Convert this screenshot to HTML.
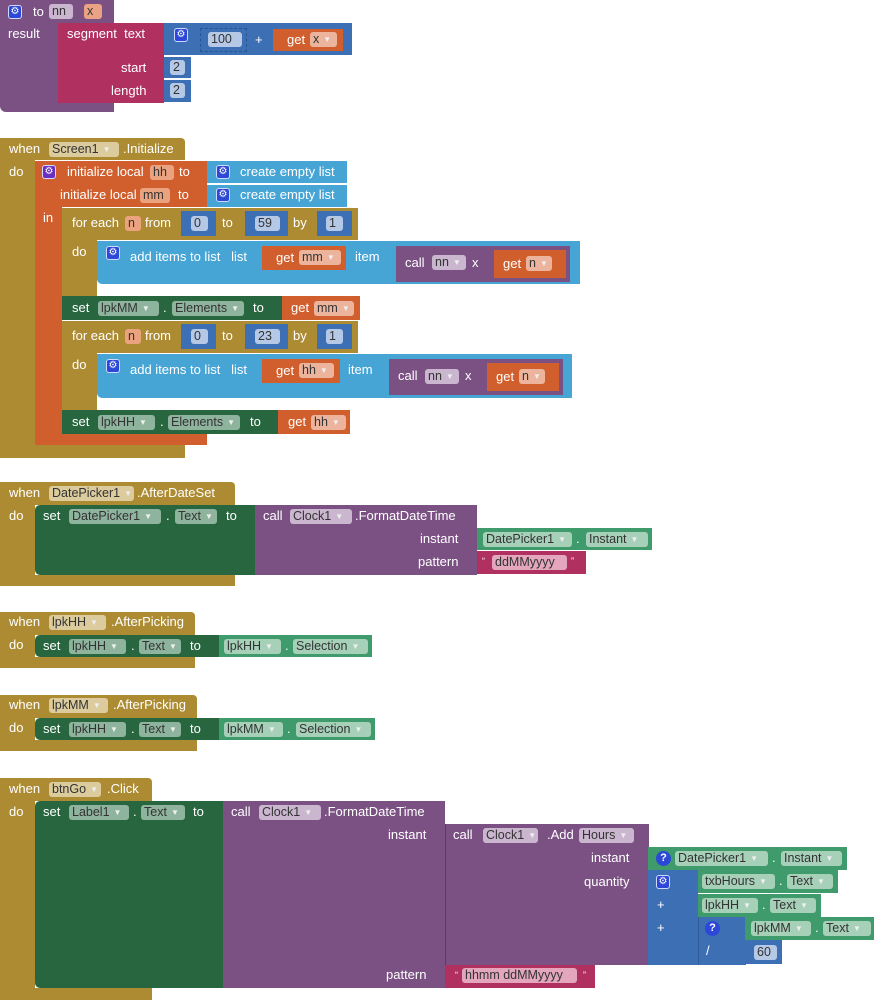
<!DOCTYPE html>
<html><head><meta charset="utf-8"><style>
body{margin:0;width:874px;height:1000px;background:#fff;position:relative;overflow:hidden;font-family:"Liberation Sans",sans-serif}
.r{position:absolute}
.t{position:absolute;color:#fff;font-size:13px;line-height:16px;white-space:nowrap}
.f{position:absolute;height:15px;line-height:15px;border-radius:3px;background:rgba(255,255,255,.5);color:#333;font-size:12.5px;padding:0 3px;white-space:nowrap;box-sizing:border-box;text-align:left}
.f i{font-style:normal;font-size:8px;color:#eee;margin-left:4px;vertical-align:1px}
.g{position:absolute;width:14px;height:14px;border-radius:3px;background:#2d48d6;border:1px solid #cfd8ff;box-sizing:border-box;color:#fff;font-size:10px;line-height:12px;text-align:center}
.q{position:absolute;width:15px;height:15px;border-radius:50%;background:#2d48d6;color:#fff;font-size:11px;font-weight:bold;line-height:15px;text-align:center}
.gd{background:#ad8b33}.pu{background:#7b5184}.mg{background:#b0305f}.bl{background:#3d6fb5}.lb{background:#47a5d6}.or{background:#d05f2d}.dg{background:#27663f}.gg{background:#3f9a6c}
</style></head><body>

<!-- to nn -->
<div class="r pu" style="left:0;top:0;width:114px;height:112px;border-radius:0 0 0 6px"></div>
<div class="g" style="left:8px;top:5px">⚙</div>
<div class="t" style="left:33px;top:4px">to</div>
<div class="f" style="left:49px;top:4px;width:24px;background:#cbb6d0">nn</div>
<div class="f" style="left:84px;top:4px;width:18px;background:#e9a384">x</div>
<div class="t" style="left:8px;top:26px">result</div>
<div class="r mg" style="left:58px;top:23px;width:106px;height:80px"></div>
<div class="t" style="left:67px;top:26px">segment&nbsp; text</div>
<div class="t" style="left:121px;top:60px">start</div>
<div class="t" style="left:111px;top:83px">length</div>
<div class="r bl" style="left:164px;top:23px;width:188px;height:32px"></div>
<div class="g" style="left:174px;top:28px">⚙</div>
<div class="r" style="left:200px;top:28px;width:47px;height:24px;border:1px dashed #2a5490;box-sizing:border-box"></div>
<div class="f" style="left:208px;top:32px;width:34px;background:#b5c8e6">100</div>
<div class="t" style="left:255px;top:32px">+</div>
<div class="r or" style="left:273px;top:29px;width:70px;height:22px"></div>
<div class="t" style="left:287px;top:32px">get</div>
<div class="f" style="left:310px;top:32px;width:27px;background:#ecb49c">x<i>▼</i></div>
<div class="r bl" style="left:164px;top:57px;width:27px;height:21px"></div>
<div class="f" style="left:170px;top:60px;width:15px;background:#b5c8e6">2</div>
<div class="r bl" style="left:164px;top:80px;width:27px;height:22px"></div>
<div class="f" style="left:170px;top:83px;width:15px;background:#b5c8e6">2</div>

<!-- Screen1.Initialize -->
<div class="r gd" style="left:0;top:138px;width:185px;height:22px;border-radius:4px 4px 0 0"></div>
<div class="r gd" style="left:0;top:138px;width:35px;height:320px"></div>
<div class="r gd" style="left:0;top:445px;width:185px;height:13px"></div>
<div class="t" style="left:9px;top:141px">when</div>
<div class="f" style="left:49px;top:142px;width:70px;background:#dccb9d">Screen1<i>▼</i></div>
<div class="t" style="left:123px;top:141px">.Initialize</div>
<div class="t" style="left:9px;top:164px">do</div>
<div class="r or" style="left:35px;top:161px;width:172px;height:46px"></div>
<div class="r or" style="left:35px;top:161px;width:27px;height:284px"></div>
<div class="r or" style="left:35px;top:432px;width:172px;height:13px"></div>
<div class="g" style="left:42px;top:165px;background:#6a2fc0">⚙</div>
<div class="t" style="left:67px;top:164px">initialize local</div>
<div class="f" style="left:150px;top:165px;width:24px;background:#eba37f">hh</div>
<div class="t" style="left:179px;top:164px">to</div>
<div class="t" style="left:60px;top:187px">initialize local</div>
<div class="f" style="left:140px;top:188px;width:30px;background:#eba37f">mm</div>
<div class="t" style="left:178px;top:187px">to</div>
<div class="t" style="left:43px;top:210px">in</div>
<div class="r lb" style="left:207px;top:161px;width:140px;height:22px"></div>
<div class="r lb" style="left:207px;top:185px;width:140px;height:22px"></div>
<div class="g" style="left:216px;top:165px">⚙</div>
<div class="g" style="left:216px;top:188px">⚙</div>
<div class="t" style="left:240px;top:164px">create empty list</div>
<div class="t" style="left:240px;top:187px">create empty list</div>

<!-- for each 1 -->
<div class="r gd" style="left:62px;top:208px;width:296px;height:32px"></div>
<div class="r gd" style="left:62px;top:208px;width:35px;height:88px"></div>
<div class="t" style="left:72px;top:215px">for each</div>
<div class="f" style="left:125px;top:216px;width:16px;background:#eba37f">n</div>
<div class="t" style="left:145px;top:215px">from</div>
<div class="r bl" style="left:181px;top:211px;width:35px;height:25px"></div>
<div class="f" style="left:191px;top:216px;width:17px;background:#b5c8e6">0</div>
<div class="t" style="left:222px;top:215px">to</div>
<div class="r bl" style="left:245px;top:211px;width:43px;height:25px"></div>
<div class="f" style="left:255px;top:216px;width:25px;background:#b5c8e6">59</div>
<div class="t" style="left:293px;top:215px">by</div>
<div class="r bl" style="left:317px;top:211px;width:35px;height:25px"></div>
<div class="f" style="left:326px;top:216px;width:17px;background:#b5c8e6">1</div>
<div class="t" style="left:72px;top:244px">do</div>
<div class="r lb" style="left:97px;top:241px;width:483px;height:43px;border-radius:0 0 0 5px"></div>
<div class="g" style="left:106px;top:246px">⚙</div>
<div class="t" style="left:130px;top:249px">add items to list&nbsp;&nbsp; list</div>
<div class="r or" style="left:262px;top:246px;width:84px;height:24px"></div>
<div class="t" style="left:276px;top:250px">get</div>
<div class="f" style="left:299px;top:250px;width:42px;background:#ecb49c">mm<i>▼</i></div>
<div class="t" style="left:355px;top:249px">item</div>
<div class="r pu" style="left:396px;top:246px;width:174px;height:36px"></div>
<div class="t" style="left:405px;top:255px">call</div>
<div class="f" style="left:432px;top:255px;width:34px;background:#cbb6d0">nn<i>▼</i></div>
<div class="t" style="left:472px;top:255px">x</div>
<div class="r or" style="left:494px;top:250px;width:72px;height:28px"></div>
<div class="t" style="left:503px;top:256px">get</div>
<div class="f" style="left:526px;top:256px;width:26px;background:#ecb49c">n<i>▼</i></div>
<div class="r dg" style="left:62px;top:296px;width:220px;height:24px"></div>
<div class="t" style="left:72px;top:300px">set</div>
<div class="f" style="left:98px;top:301px;width:61px;background:#8fb49d">lpkMM<i>▼</i></div>
<div class="t" style="left:163px;top:300px">.</div>
<div class="f" style="left:172px;top:301px;width:72px;background:#8fb49d">Elements<i>▼</i></div>
<div class="t" style="left:253px;top:300px">to</div>
<div class="r or" style="left:282px;top:296px;width:78px;height:24px"></div>
<div class="t" style="left:291px;top:300px">get</div>
<div class="f" style="left:314px;top:301px;width:40px;background:#ecb49c">mm<i>▼</i></div>

<!-- for each 2 -->
<div class="r gd" style="left:62px;top:321px;width:296px;height:32px"></div>
<div class="r gd" style="left:62px;top:321px;width:35px;height:89px"></div>
<div class="t" style="left:72px;top:328px">for each</div>
<div class="f" style="left:125px;top:329px;width:16px;background:#eba37f">n</div>
<div class="t" style="left:145px;top:328px">from</div>
<div class="r bl" style="left:181px;top:324px;width:35px;height:25px"></div>
<div class="f" style="left:191px;top:329px;width:17px;background:#b5c8e6">0</div>
<div class="t" style="left:222px;top:328px">to</div>
<div class="r bl" style="left:245px;top:324px;width:43px;height:25px"></div>
<div class="f" style="left:255px;top:329px;width:25px;background:#b5c8e6">23</div>
<div class="t" style="left:293px;top:328px">by</div>
<div class="r bl" style="left:317px;top:324px;width:35px;height:25px"></div>
<div class="f" style="left:326px;top:329px;width:17px;background:#b5c8e6">1</div>
<div class="t" style="left:72px;top:357px">do</div>
<div class="r lb" style="left:97px;top:354px;width:475px;height:44px;border-radius:0 0 0 5px"></div>
<div class="g" style="left:106px;top:359px">⚙</div>
<div class="t" style="left:130px;top:362px">add items to list&nbsp;&nbsp; list</div>
<div class="r or" style="left:262px;top:359px;width:78px;height:24px"></div>
<div class="t" style="left:276px;top:363px">get</div>
<div class="f" style="left:299px;top:363px;width:35px;background:#ecb49c">hh<i>▼</i></div>
<div class="t" style="left:348px;top:362px">item</div>
<div class="r pu" style="left:389px;top:359px;width:174px;height:36px"></div>
<div class="t" style="left:398px;top:368px">call</div>
<div class="f" style="left:425px;top:369px;width:34px;background:#cbb6d0">nn<i>▼</i></div>
<div class="t" style="left:465px;top:368px">x</div>
<div class="r or" style="left:487px;top:363px;width:72px;height:28px"></div>
<div class="t" style="left:496px;top:369px">get</div>
<div class="f" style="left:519px;top:369px;width:26px;background:#ecb49c">n<i>▼</i></div>
<div class="r dg" style="left:62px;top:410px;width:216px;height:24px"></div>
<div class="t" style="left:72px;top:414px">set</div>
<div class="f" style="left:98px;top:415px;width:57px;background:#8fb49d">lpkHH<i>▼</i></div>
<div class="t" style="left:160px;top:414px">.</div>
<div class="f" style="left:168px;top:415px;width:72px;background:#8fb49d">Elements<i>▼</i></div>
<div class="t" style="left:250px;top:414px">to</div>
<div class="r or" style="left:278px;top:410px;width:72px;height:24px"></div>
<div class="t" style="left:288px;top:414px">get</div>
<div class="f" style="left:311px;top:415px;width:35px;background:#ecb49c">hh<i>▼</i></div>

<!-- DatePicker1.AfterDateSet -->
<div class="r gd" style="left:0;top:482px;width:235px;height:23px;border-radius:4px 4px 0 0"></div>
<div class="r gd" style="left:0;top:482px;width:35px;height:104px"></div>
<div class="r gd" style="left:0;top:575px;width:235px;height:11px"></div>
<div class="t" style="left:9px;top:485px">when</div>
<div class="f" style="left:49px;top:486px;width:85px;background:#dccb9d">DatePicker1<i>▼</i></div>
<div class="t" style="left:137px;top:485px">.AfterDateSet</div>
<div class="t" style="left:9px;top:508px">do</div>
<div class="r dg" style="left:35px;top:505px;width:220px;height:70px;border-radius:5px 0 0 5px"></div>
<div class="t" style="left:43px;top:508px">set</div>
<div class="f" style="left:69px;top:509px;width:92px;background:#8fb49d">DatePicker1<i>▼</i></div>
<div class="t" style="left:166px;top:508px">.</div>
<div class="f" style="left:175px;top:509px;width:42px;background:#8fb49d">Text<i>▼</i></div>
<div class="t" style="left:226px;top:508px">to</div>
<div class="r pu" style="left:255px;top:505px;width:222px;height:70px"></div>
<div class="t" style="left:263px;top:508px">call</div>
<div class="f" style="left:290px;top:509px;width:62px;background:#cbb6d0">Clock1<i>▼</i></div>
<div class="t" style="left:355px;top:508px">.FormatDateTime</div>
<div class="t" style="left:420px;top:531px">instant</div>
<div class="t" style="left:418px;top:554px">pattern</div>
<div class="r gg" style="left:477px;top:528px;width:175px;height:22px"></div>
<div class="f" style="left:483px;top:532px;width:89px;background:#a7d0b9">DatePicker1<i>▼</i></div>
<div class="t" style="left:576px;top:531px">.</div>
<div class="f" style="left:586px;top:532px;width:62px;background:#a7d0b9">Instant<i>▼</i></div>
<div class="r mg" style="left:477px;top:551px;width:109px;height:23px"></div>
<div class="t" style="left:482px;top:553px;font-size:9px">“</div>
<div class="f" style="left:492px;top:555px;width:75px;background:#e3a6bd">ddMMyyyy</div>
<div class="t" style="left:571px;top:553px;font-size:9px">”</div>

<!-- lpkHH.AfterPicking -->
<div class="r gd" style="left:0;top:612px;width:195px;height:23px;border-radius:4px 4px 0 0"></div>
<div class="r gd" style="left:0;top:612px;width:35px;height:56px"></div>
<div class="r gd" style="left:0;top:657px;width:195px;height:11px"></div>
<div class="t" style="left:9px;top:614px">when</div>
<div class="f" style="left:49px;top:615px;width:57px;background:#dccb9d">lpkHH<i>▼</i></div>
<div class="t" style="left:111px;top:614px">.AfterPicking</div>
<div class="t" style="left:9px;top:637px">do</div>
<div class="r dg" style="left:35px;top:635px;width:184px;height:22px;border-radius:5px 0 0 5px"></div>
<div class="t" style="left:43px;top:638px">set</div>
<div class="f" style="left:69px;top:639px;width:57px;background:#8fb49d">lpkHH<i>▼</i></div>
<div class="t" style="left:131px;top:638px">.</div>
<div class="f" style="left:139px;top:639px;width:42px;background:#8fb49d">Text<i>▼</i></div>
<div class="t" style="left:190px;top:638px">to</div>
<div class="r gg" style="left:219px;top:635px;width:153px;height:22px"></div>
<div class="f" style="left:224px;top:639px;width:57px;background:#a7d0b9">lpkHH<i>▼</i></div>
<div class="t" style="left:285px;top:638px">.</div>
<div class="f" style="left:293px;top:639px;width:75px;background:#a7d0b9">Selection<i>▼</i></div>

<!-- lpkMM.AfterPicking -->
<div class="r gd" style="left:0;top:695px;width:197px;height:23px;border-radius:4px 4px 0 0"></div>
<div class="r gd" style="left:0;top:695px;width:35px;height:56px"></div>
<div class="r gd" style="left:0;top:740px;width:197px;height:11px"></div>
<div class="t" style="left:9px;top:697px">when</div>
<div class="f" style="left:49px;top:698px;width:59px;background:#dccb9d">lpkMM<i>▼</i></div>
<div class="t" style="left:113px;top:697px">.AfterPicking</div>
<div class="t" style="left:9px;top:720px">do</div>
<div class="r dg" style="left:35px;top:718px;width:184px;height:22px;border-radius:5px 0 0 5px"></div>
<div class="t" style="left:43px;top:721px">set</div>
<div class="f" style="left:69px;top:722px;width:57px;background:#8fb49d">lpkHH<i>▼</i></div>
<div class="t" style="left:131px;top:721px">.</div>
<div class="f" style="left:139px;top:722px;width:42px;background:#8fb49d">Text<i>▼</i></div>
<div class="t" style="left:190px;top:721px">to</div>
<div class="r gg" style="left:219px;top:718px;width:156px;height:22px"></div>
<div class="f" style="left:224px;top:722px;width:59px;background:#a7d0b9">lpkMM<i>▼</i></div>
<div class="t" style="left:287px;top:721px">.</div>
<div class="f" style="left:296px;top:722px;width:75px;background:#a7d0b9">Selection<i>▼</i></div>

<!-- btnGo.Click -->
<div class="r gd" style="left:0;top:778px;width:152px;height:23px;border-radius:4px 4px 0 0"></div>
<div class="r gd" style="left:0;top:778px;width:35px;height:222px"></div>
<div class="r gd" style="left:0;top:988px;width:152px;height:12px"></div>
<div class="t" style="left:9px;top:781px">when</div>
<div class="f" style="left:49px;top:782px;width:52px;background:#dccb9d">btnGo<i>▼</i></div>
<div class="t" style="left:107px;top:781px">.Click</div>
<div class="t" style="left:9px;top:804px">do</div>
<div class="r dg" style="left:35px;top:801px;width:188px;height:187px;border-radius:5px 0 0 5px"></div>
<div class="t" style="left:43px;top:804px">set</div>
<div class="f" style="left:69px;top:805px;width:60px;background:#8fb49d">Label1<i>▼</i></div>
<div class="t" style="left:133px;top:804px">.</div>
<div class="f" style="left:141px;top:805px;width:44px;background:#8fb49d">Text<i>▼</i></div>
<div class="t" style="left:193px;top:804px">to</div>
<div class="r pu" style="left:223px;top:801px;width:222px;height:187px"></div>
<div class="t" style="left:231px;top:804px">call</div>
<div class="f" style="left:259px;top:805px;width:62px;background:#cbb6d0">Clock1<i>▼</i></div>
<div class="t" style="left:324px;top:804px">.FormatDateTime</div>
<div class="t" style="left:388px;top:827px">instant</div>
<div class="t" style="left:386px;top:967px">pattern</div>
<div class="r pu" style="left:445px;top:824px;width:203px;height:141px;border-left:1px solid #5e3a66"></div>
<div class="t" style="left:453px;top:827px">call</div>
<div class="f" style="left:483px;top:828px;width:55px;background:#cbb6d0">Clock1<i>▼</i></div>
<div class="t" style="left:547px;top:827px">.Add</div>
<div class="f" style="left:579px;top:828px;width:55px;background:#cbb6d0">Hours<i>▼</i></div>
<div class="t" style="left:591px;top:850px">instant</div>
<div class="t" style="left:584px;top:874px">quantity</div>
<div class="r mg" style="left:445px;top:965px;width:150px;height:23px"></div>
<div class="t" style="left:455px;top:967px;font-size:9px">“</div>
<div class="f" style="left:462px;top:968px;width:115px;background:#e3a6bd">hhmm ddMMyyyy</div>
<div class="t" style="left:583px;top:967px;font-size:9px">”</div>
<div class="r gg" style="left:648px;top:847px;width:199px;height:23px"></div>
<div class="q" style="left:656px;top:851px">?</div>
<div class="f" style="left:675px;top:851px;width:93px;background:#a7d0b9">DatePicker1<i>▼</i></div>
<div class="t" style="left:772px;top:850px">.</div>
<div class="f" style="left:781px;top:851px;width:61px;background:#a7d0b9">Instant<i>▼</i></div>
<div class="r bl" style="left:648px;top:870px;width:50px;height:95px"></div>
<div class="g" style="left:656px;top:875px">⚙</div>
<div class="t" style="left:657px;top:897px">+</div>
<div class="t" style="left:657px;top:920px">+</div>
<div class="r gg" style="left:698px;top:870px;width:140px;height:23px"></div>
<div class="f" style="left:702px;top:874px;width:73px;background:#a7d0b9">txbHours<i>▼</i></div>
<div class="t" style="left:779px;top:873px">.</div>
<div class="f" style="left:787px;top:874px;width:46px;background:#a7d0b9">Text<i>▼</i></div>
<div class="r gg" style="left:698px;top:894px;width:123px;height:23px"></div>
<div class="f" style="left:702px;top:898px;width:56px;background:#a7d0b9">lpkHH<i>▼</i></div>
<div class="t" style="left:762px;top:897px">.</div>
<div class="f" style="left:770px;top:898px;width:46px;background:#a7d0b9">Text<i>▼</i></div>
<div class="r bl" style="left:698px;top:917px;width:47px;height:48px;border-left:1px solid #2f5a96"></div>
<div class="q" style="left:705px;top:921px">?</div>
<div class="t" style="left:706px;top:943px">/</div>
<div class="r gg" style="left:745px;top:917px;width:129px;height:23px"></div>
<div class="f" style="left:751px;top:921px;width:60px;background:#a7d0b9">lpkMM<i>▼</i></div>
<div class="t" style="left:815px;top:920px">.</div>
<div class="f" style="left:823px;top:921px;width:48px;background:#a7d0b9">Text<i>▼</i></div>
<div class="r bl" style="left:745px;top:940px;width:37px;height:24px"></div>
<div class="f" style="left:754px;top:945px;width:23px;background:#b5c8e6">60</div>

</body></html>
